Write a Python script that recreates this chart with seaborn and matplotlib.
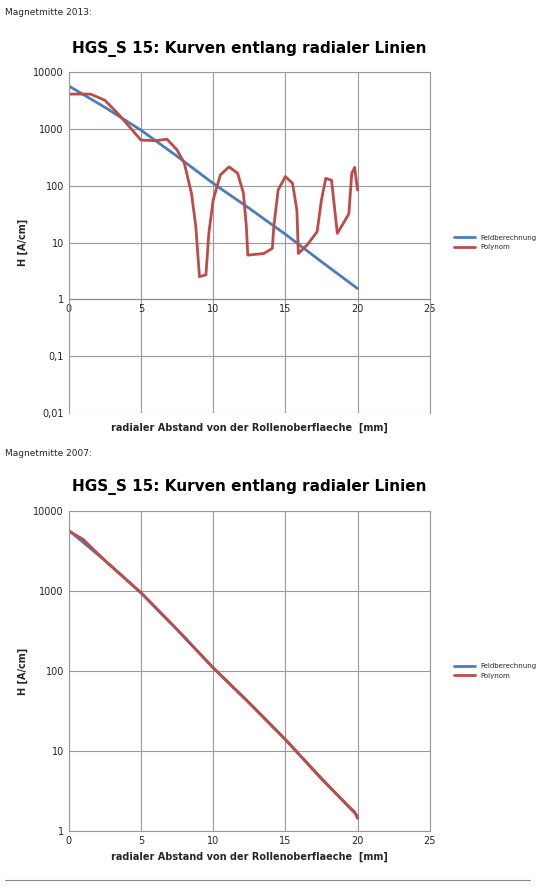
import matplotlib
matplotlib.use("Agg")
import matplotlib.pyplot as plt
import seaborn as sns
import pandas as pd
from matplotlib.ticker import FixedLocator, FixedFormatter

sns.set_style("white")
plt.rcParams['font.family'] = ['DejaVu Sans']

TITLE = "HGS_S 15: Kurven entlang radialer Linien"
XLABEL = "radialer Abstand von der Rollenoberflaeche  [mm]"
YLABEL = "H [A/cm]"
SERIES = ["Feldberechnung", "Polynom"]
COLORS = ["#4a7ebb", "#be4b48"]

feld_x = [0, 2.5, 5, 7.5, 10, 12.5, 15, 17.5, 20]
feld_y = [5700, 2400, 950, 330, 110, 40, 14, 4.6, 1.55]

poly13_x = [0, 1.5, 2.5, 3.5, 4.5, 5, 6, 6.8, 7.5, 8, 8.5, 8.8, 9.05, 9.5, 9.7, 10, 10.5,
            11.1, 11.7, 12.1, 12.3, 12.4, 13.5, 14.1, 14.2, 14.5, 15, 15.5, 15.8, 15.9,
            16.5, 17.2, 17.5, 17.8, 18.2, 18.6, 19.4, 19.6, 19.8, 20]
poly13_y = [4100, 4100, 3200, 1750, 890, 635, 620, 660, 425, 250, 73, 19, 2.5, 2.7, 14.5, 56, 155,
            215, 165, 73, 19, 6.0, 6.4, 7.9, 19, 84, 145, 110, 37, 6.4,
            9, 15.5, 56, 135, 125, 14.5, 32, 165, 210, 84]

poly07_x = [0, 1, 2.5, 5, 7.5, 10, 12.5, 15, 17.5, 19, 19.5, 19.8, 20]
poly07_y = [5600, 4400, 2400, 950, 330, 110, 40, 14, 4.5, 2.4, 1.95, 1.75, 1.45]

fig = plt.figure(figsize=(5.46, 8.90), dpi=100)

def panel(ax, poly_x, poly_y, ymin, yticks, ylabels, cross):
    df = pd.concat([
        pd.DataFrame({"x": feld_x, "y": feld_y, "s": SERIES[0]}),
        pd.DataFrame({"x": poly_x, "y": poly_y, "s": SERIES[1]}),
    ])
    sns.lineplot(data=df, x="x", y="y", hue="s", palette=COLORS, ax=ax,
                 linewidth=2, sort=False, legend=True)
    ax.set_yscale("log")
    ax.set_ylim(ymin, 10000)
    ax.set_xlim(0, 25)
    ax.yaxis.set_major_locator(FixedLocator(yticks))
    ax.yaxis.set_major_formatter(FixedFormatter(ylabels))
    ax.yaxis.set_minor_locator(FixedLocator([]))
    ax.set_xticks([0, 5, 10, 15, 20, 25])
    ax.grid(True, color="#999999", linewidth=0.8)
    ax.tick_params(labelsize=7, length=0)
    for s in ax.spines.values():
        s.set_color("#999999")
    if cross:
        ax.spines['bottom'].set_position(('data', 1))
        ax.spines['bottom'].set_color("#888888")
    ax.set_xlabel(XLABEL, fontsize=7, fontweight="bold")
    ax.set_ylabel(YLABEL, fontsize=7, fontweight="bold")
    ax.set_title(TITLE, fontsize=11, fontweight="bold", pad=14, color="black")
    ax.legend(loc="center left", bbox_to_anchor=(1.05, 0.5), frameon=False,
              fontsize=5, handlelength=3)

ax1 = fig.add_axes([0.126, 0.536, 0.661, 0.383])
panel(ax1, poly13_x, poly13_y, 0.01, [0.01, 0.1, 1, 10, 100, 1000, 10000],
      ["0,01", "0,1", "1", "10", "100", "1000", "10000"], True)
ax1.xaxis.set_label_coords(0.5, -0.03)

ax2 = fig.add_axes([0.126, 0.066, 0.661, 0.36])
panel(ax2, poly07_x, poly07_y, 1, [1, 10, 100, 1000, 10000],
      ["1", "10", "100", "1000", "10000"], False)

fig.text(0.01, 0.986, "Magnetmitte 2013:", fontsize=6.5, va="center")
fig.text(0.01, 0.491, "Magnetmitte 2007:", fontsize=6.5, va="center")
fig.add_artist(plt.Line2D([0.01, 0.97], [0.011, 0.011], color="#888888", linewidth=0.8))

fig.savefig("out.png", dpi=100)
